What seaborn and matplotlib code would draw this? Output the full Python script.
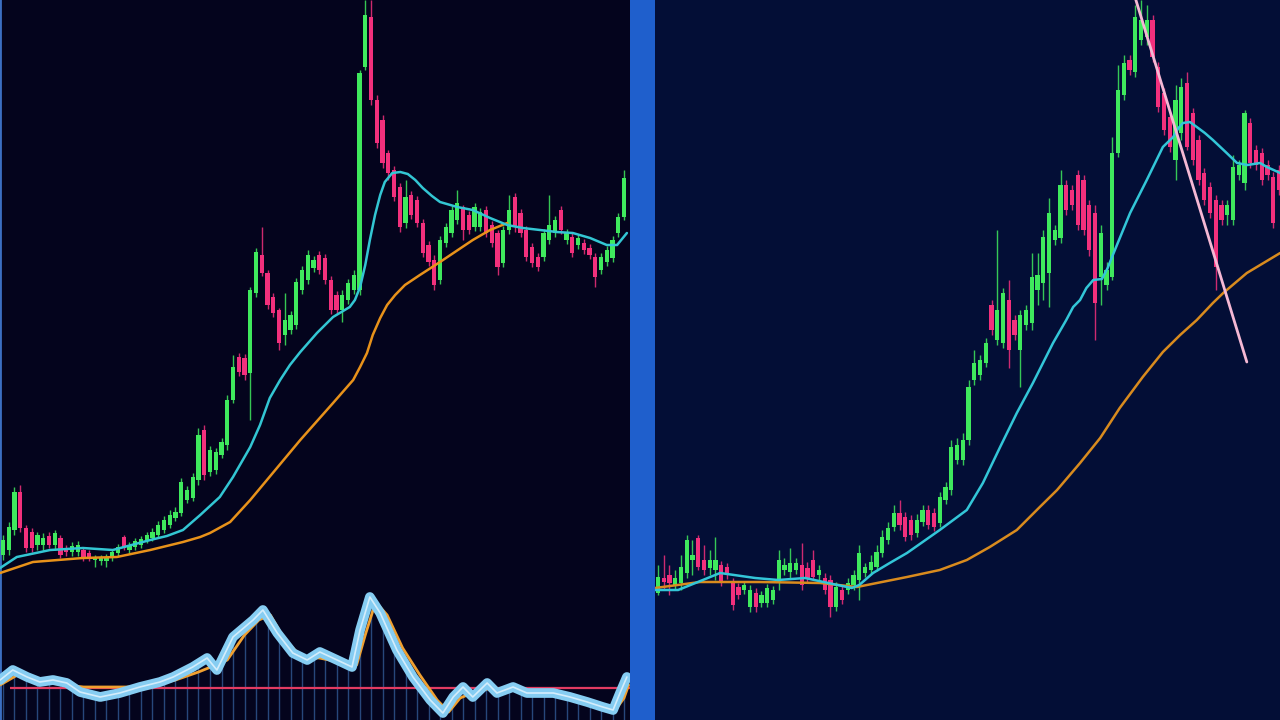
import matplotlib
matplotlib.use("Agg")
import matplotlib.pyplot as plt
import seaborn as sns

# ---- left chart: candles (price units, bottom of the panel = 0) ----
left_open = [165, 170, 190, 228, 192, 188, 175, 175, 184, 175,
             182, 172, 168, 168, 170, 167, 160, 159, 159, 162,
             167, 183, 170, 173, 175, 180, 182, 185, 190, 195,
             202, 207, 220, 222, 240, 290, 248, 250, 265, 275,
             320, 363, 362, 347, 427, 465, 447, 423, 410, 385,
             390, 395, 430, 440, 452, 465, 462, 440, 425, 410,
             420, 430, 430, 653, 703, 620, 600, 567, 550, 533,
             497, 525, 520, 497, 475, 460, 440, 477, 487, 500,
             513, 505, 493, 493, 510, 495, 487, 457, 490, 523,
             507, 490, 473, 463, 463, 480, 487, 510, 480, 483,
             475, 477, 472, 463, 450, 458, 462, 487, 503]
left_close = [180, 193, 228, 192, 172, 172, 185, 182, 175, 187,
              165, 168, 174, 175, 162, 162, 163, 163, 163, 168,
              173, 172, 175, 179, 181, 185, 188, 195, 200, 205,
              208, 238, 230, 243, 285, 245, 270, 268, 278, 320,
              353, 348, 345, 430, 468, 447, 415, 407, 377, 400,
              405, 438, 450, 465, 460, 450, 440, 410, 410, 425,
              437, 445, 647, 705, 620, 577, 557, 547, 523, 493,
              523, 505, 497, 467, 458, 435, 480, 493, 510, 517,
              490, 490, 513, 508, 487, 477, 453, 490, 510, 493,
              487, 463, 457, 453, 487, 495, 500, 490, 487, 467,
              482, 470, 465, 443, 463, 470, 480, 503, 542]
left_high = [185, 198, 233, 235, 195, 192, 188, 187, 188, 190,
             185, 175, 178, 179, 173, 170, 165, 165, 166, 171,
             176, 185, 178, 182, 184, 188, 192, 199, 204, 210,
             213, 242, 234, 247, 292, 295, 274, 272, 282, 325,
             365, 367, 366, 433, 472, 493, 450, 427, 412, 427,
             409, 442, 454, 470, 464, 469, 466, 444, 429, 430,
             441, 450, 650, 720, 720, 625, 605, 570, 554, 537,
             540, 529, 524, 501, 479, 465, 484, 497, 514, 530,
             515, 509, 517, 512, 514, 499, 490, 494, 525, 527,
             511, 494, 477, 467, 491, 525, 504, 514, 491, 487,
             486, 481, 476, 467, 467, 474, 484, 507, 550]
left_low = [160, 165, 185, 188, 168, 168, 170, 170, 172, 170,
            162, 164, 164, 164, 159, 159, 153, 155, 153, 159,
            164, 170, 167, 170, 172, 177, 179, 182, 187, 192,
            199, 204, 217, 219, 235, 240, 244, 246, 262, 270,
            317, 344, 340, 300, 423, 444, 411, 403, 370, 375,
            386, 391, 426, 436, 448, 446, 436, 406, 406, 398,
            416, 426, 425, 650, 615, 572, 552, 540, 519, 488,
            492, 501, 493, 463, 454, 430, 436, 473, 483, 496,
            480, 486, 489, 489, 483, 473, 445, 453, 486, 488,
            483, 459, 453, 449, 459, 476, 483, 486, 476, 463,
            471, 466, 461, 433, 446, 454, 458, 483, 500]

# left moving averages (x = candle index)
left_fast_x = [-0.5, 2.4, 8.2, 13.9, 19.1, 25.6, 28.5, 31.3, 34.3, 37.7,
               40, 41.2, 43, 44.7, 46.4, 48.2, 49.9, 51.7, 54.6, 57.4,
               60.3, 61.2, 62.1, 63, 63.8, 64.7, 65.6, 66.4, 67.7, 69.1,
               70.4, 71.7, 73, 74.6, 76, 79, 81.7, 84.7, 87.7, 90.4,
               93.4, 96.3, 99.1, 102.1, 105, 106.8, 108.5]
left_fast = [152, 163, 170, 172, 170, 180, 184, 190, 205, 223,
             243, 255, 273, 295, 322, 340, 355, 368, 387, 403,
             413, 420, 433, 455, 480, 505, 525, 538, 547, 548,
             546, 540, 532, 524, 518, 513, 510, 502, 495, 492,
             490, 488, 487, 482, 475, 475, 487]
left_slow_x = [-0.5, 5.2, 13.9, 19.8, 25.6, 31.3, 34.3, 36, 39.5, 43,
               45.9, 51.7, 57.4, 60.9, 62.1, 63.3, 64.3, 65.6, 66.8, 68.2,
               69.9, 72.5, 76, 81.7, 84.7, 87.7]
left_slow = [147, 158, 162, 163, 170, 178, 183, 187, 198, 220,
             240, 280, 317, 340, 353, 367, 385, 402, 415, 425,
             435, 445, 458, 480, 490, 497]

# left MACD panel
macd_x = [-0.5, 1.7, 4.2, 6.4, 8.7, 11.1, 13.4, 16.9, 20.3, 23.8,
          27.3, 29.6, 33, 35.5, 37.2, 40, 43.5, 45.2, 47.7, 50.4,
          52.9, 55.1, 58.1, 60.7, 62.1, 63.8, 65.6, 68.5, 71.3, 74.3,
          76.5, 78.3, 80, 81.7, 84.2, 85.9, 88.7, 91.1, 95.7, 98.6,
          101.6, 104.3, 106.1, 107.3, 108.5]
macd = [40, 50, 43, 38, 40, 37, 28, 23, 27, 33,
        38, 43, 53, 62, 50, 83, 100, 110, 87, 67,
        60, 68, 60, 53, 90, 123, 107, 70, 43, 20,
        7, 23, 33, 23, 37, 27, 33, 27, 27, 23,
        18, 13, 10, 27, 43]
signal_x = [-0.5, 2.5, 5.5, 8, 11, 14, 18, 22, 26, 30,
            34, 37, 39, 42, 44.5, 46.5, 49, 52, 55, 58.5,
            61.5, 63, 64.8, 66.8, 69.5, 72.5, 75.5, 77.5, 79.5, 82,
            85, 88, 92, 96, 100, 103, 106.5, 108, 108.8]
signal = [35, 45, 42, 37, 35, 33, 33, 33, 35, 40,
          48, 55, 60, 85, 100, 105, 80, 63, 62, 58,
          55, 85, 118, 105, 72, 45, 20, 8, 22, 28,
          32, 30, 28, 25, 21, 16, 10, 22, 35]
hist = [42, 49, 44, 38, 40, 38, 32, 26, 23, 24,
        27, 30, 33, 36, 40, 44, 50, 57, 58, 60,
        80, 93, 105, 103, 85, 70, 62, 65, 65, 60,
        55, 88, 122, 100, 75, 55, 37, 22, 10, 20,
        32, 25, 36, 28, 32, 28, 27, 27, 27, 24,
        20, 17, 14, 10, 40]
zero_level = 32

# ---- right chart ----
right_open = [127, 142, 145, 135, 137, 147, 160, 182, 160, 152,
              150, 155, 153, 137, 133, 130, 113, 127, 117, 117,
              120, 137, 150, 148, 150, 155, 152, 160, 145, 142,
              140, 113, 130, 130, 135, 140, 147, 150, 153, 167,
              180, 193, 207, 203, 200, 187, 198, 210, 207, 197,
              220, 230, 260, 260, 280, 340, 345, 357, 415, 380,
              377, 420, 400, 370, 395, 397, 430, 437, 447, 480,
              482, 535, 530, 545, 540, 515, 507, 443, 435, 443,
              567, 625, 660, 648, 680, 683, 700, 653, 627, 603,
              560, 587, 637, 607, 580, 547, 533, 520, 515, 505,
              500, 545, 537, 597, 570, 567, 555, 543, 550]
right_close = [143, 138, 137, 142, 153, 180, 165, 153, 150, 160,
               160, 138, 145, 115, 125, 135, 130, 113, 125, 132,
               130, 160, 155, 157, 157, 135, 142, 143, 150, 130,
               113, 133, 120, 137, 145, 167, 153, 158, 168, 183,
               192, 207, 195, 183, 185, 200, 210, 195, 193, 223,
               233, 273, 275, 280, 333, 357, 360, 377, 390, 410,
               427, 370, 385, 405, 410, 443, 445, 483, 507, 490,
               535, 510, 515, 495, 490, 470, 417, 487, 450, 567,
               630, 657, 650, 703, 700, 700, 663, 613, 590, 573,
               620, 633, 573, 560, 540, 520, 507, 453, 500, 515,
               553, 555, 607, 557, 555, 540, 545, 497, 530]
right_high = [155, 165, 155, 150, 165, 185, 180, 185, 175, 170,
              183, 159, 157, 142, 137, 139, 135, 132, 129, 136,
              134, 170, 162, 172, 162, 177, 158, 170, 155, 147,
              145, 138, 135, 142, 150, 175, 157, 165, 175, 190,
              198, 215, 220, 208, 205, 206, 215, 215, 212, 228,
              238, 280, 282, 287, 340, 370, 365, 382, 420, 490,
              432, 440, 405, 410, 415, 467, 467, 490, 522, 495,
              550, 540, 535, 550, 545, 520, 515, 495, 458, 583,
              655, 665, 665, 715, 720, 715, 705, 658, 632, 608,
              635, 642, 648, 612, 585, 552, 538, 525, 520, 520,
              565, 560, 610, 602, 575, 572, 560, 548, 555]
right_low = [125, 130, 125, 130, 130, 142, 145, 150, 145, 145,
             140, 134, 141, 110, 121, 126, 108, 108, 113, 113,
             116, 130, 145, 142, 146, 130, 138, 140, 140, 126,
             103, 109, 116, 126, 130, 120, 143, 146, 149, 163,
             176, 189, 190, 179, 180, 183, 194, 191, 189, 193,
             216, 225, 256, 255, 275, 335, 340, 353, 385, 375,
             372, 352, 380, 333, 390, 390, 415, 420, 413, 475,
             477, 505, 510, 490, 485, 464, 380, 415, 430, 440,
             563, 620, 645, 643, 675, 675, 658, 608, 585, 568,
             540, 580, 570, 555, 535, 515, 502, 430, 495, 495,
             495, 540, 530, 552, 550, 535, 540, 492, 525]

right_fast_x = [-0.5, 3.5, 10.8, 16.9, 20.9, 25.6, 29.6, 33.7, 35, 37.4,
                40.3, 43.3, 49, 53.7, 56.5, 59.5, 62.4, 65.2, 68.7, 71,
                72.2, 73.4, 74.5, 75.7, 77.2, 78.2, 79.1, 82.1, 85, 87.8,
                89.6, 90.5, 91.3, 92.5, 93.7, 95.1, 96.5, 98.9, 100.7, 102.5,
                104.7, 105.9, 108.2]
right_fast = [130, 130, 147, 142, 140, 142, 137, 132, 135, 147,
              157, 167, 190, 210, 237, 273, 307, 337, 377, 400,
              413, 420, 432, 440, 441, 452, 465, 507, 540, 573,
              583, 592, 597, 598, 593, 587, 580, 567, 557, 555,
              557, 553, 547]
right_slow_x = [-0.5, 7.3, 17.7, 28.2, 34.6, 43.3, 49, 53.7, 57.7, 62.4,
                66.4, 69.4, 73.4, 76.9, 80.3, 84.3, 87.8, 90.8, 93.7, 96.5,
                98.3, 102.4, 108.2]
right_slow = [132, 138, 138, 137, 133, 143, 150, 160, 173, 190,
              213, 230, 257, 282, 312, 343, 368, 385, 400, 417,
              427, 447, 467]

# hand-drawn trend line on the right chart
trend_x = [83.0, 102.4]
trend_y = [722, 358]

GREEN = "#3fe95d"
PINK = "#f2307c"


def draw_candles(ax, o, c, h, l):
    idx = list(range(len(o)))
    cols = [GREEN if cc >= oo else PINK for oo, cc in zip(o, c)]
    ax.vlines(idx, l, h, colors=cols, linewidth=1.0, alpha=0.85, zorder=2)
    heights = [cc - oo if abs(cc - oo) > 2 else 2 for oo, cc in zip(o, c)]
    ax.bar(idx, heights, bottom=o, width=0.74, color=cols, linewidth=0, zorder=3)


def line(ax, x, y, color, lw, z, alpha=1.0):
    sns.lineplot(x=x, y=y, ax=ax, sort=False, estimator=None, color=color,
                 linewidth=lw, alpha=alpha, zorder=z,
                 solid_joinstyle="round", solid_capstyle="round")


sns.set_theme(style="dark")
plt.rcParams["font.family"] = ["DejaVu Sans"]

fig = plt.figure(figsize=(12.8, 7.2), dpi=100, facecolor="#1f5fcc")
ax_l = fig.add_axes([0, 0, 630 / 1280, 1])
ax_r = fig.add_axes([655 / 1280, 0, 625 / 1280, 1])

# left panel
ax_l.set_facecolor("#04041d")
hist_x = list(range(0, 109, 2))
ax_l.vlines(hist_x, 0, hist, colors="#2c4f86", linewidth=1.0, alpha=0.9, zorder=1)
ax_l.hlines(zero_level, 1.2, 109.5, colors="#e23b62", linewidth=1.6, zorder=2)
line(ax_l, macd_x, macd, "#86cdf2", 7, 4)
line(ax_l, signal_x, signal, "#f0a030", 2, 3)
line(ax_l, macd_x, macd, "#eef8ff", 1.2, 5, alpha=0.75)
draw_candles(ax_l, left_open, left_close, left_high, left_low)
line(ax_l, left_slow_x, left_slow, "#e8921a", 1.8, 6)
line(ax_l, left_fast_x, left_fast, "#33c6d3", 1.8, 7)
ax_l.set_xlim(-0.52, 109.04)
ax_l.set_ylim(0, 720)

# right panel
ax_r.set_facecolor("#030e36")
draw_candles(ax_r, right_open, right_close, right_high, right_low)
line(ax_r, right_slow_x, right_slow, "#d98b1e", 1.8, 6)
line(ax_r, right_fast_x, right_fast, "#33c6d8", 1.8, 7)
line(ax_r, trend_x, trend_y, "#f5b8d4", 2, 8)
ax_r.set_xlim(-0.52, 108.17)
ax_r.set_ylim(0, 720)

for ax in (ax_l, ax_r):
    ax.set_xticks([])
    ax.set_yticks([])
    ax.set_xlabel("")
    ax.set_ylabel("")
    for s in ax.spines.values():
        s.set_visible(False)
    leg = ax.get_legend()
    if leg:
        leg.remove()

ax_l.spines["left"].set_visible(True)
ax_l.spines["left"].set_color("#3b6fc2")
ax_l.spines["left"].set_linewidth(2)

fig.savefig("out.png", dpi=100, facecolor=fig.get_facecolor())
